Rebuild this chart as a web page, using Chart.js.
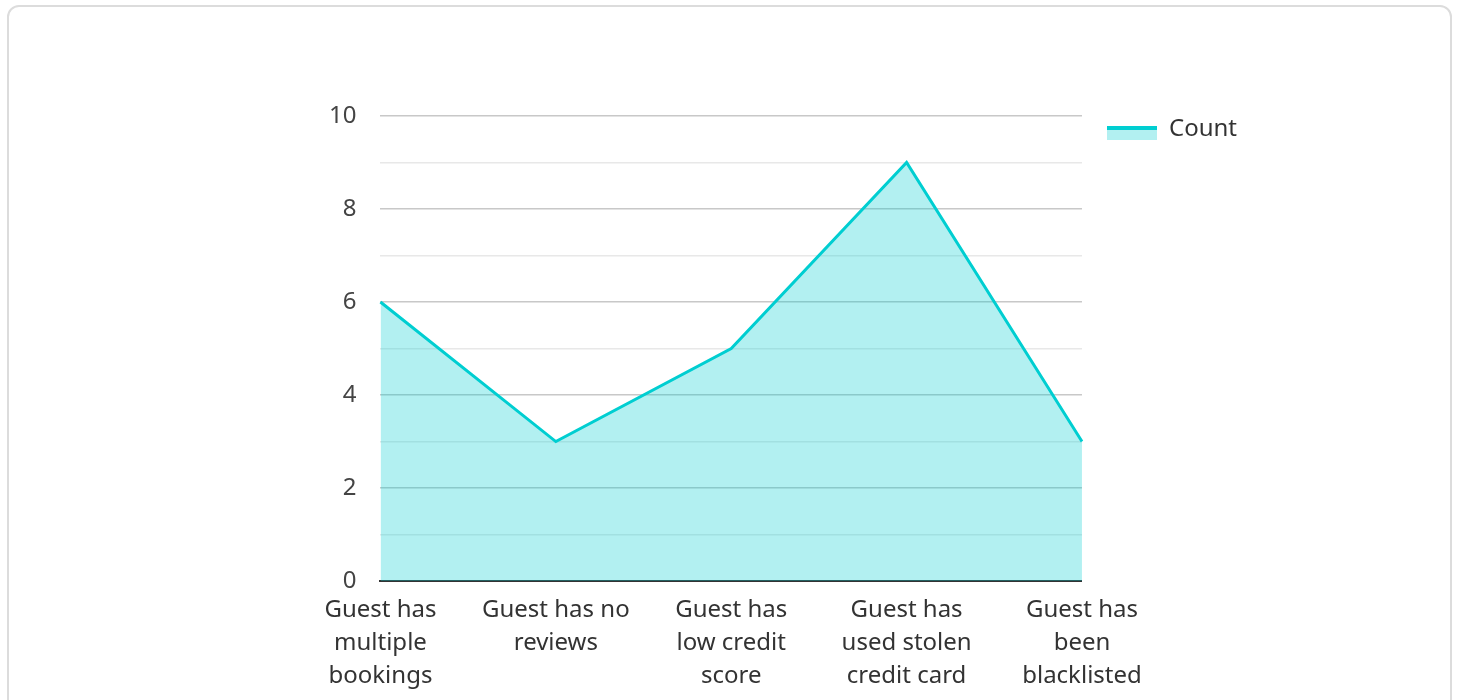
<!DOCTYPE html>
<html>
<head>
<meta charset="utf-8">
<script src="https://cdn.jsdelivr.net/npm/chart.js@4.4.1/dist/chart.umd.min.js"></script>
<style>
  html, body { margin: 0; padding: 0; background: #ffffff; overflow: hidden; }
  #card { position: absolute; left: 7px; top: 5px; width: 1441px; height: 720px; border: 2px solid #dcdcdc; border-radius: 12px; background: #fff; }
  #wrap { position: absolute; left: 0; top: 0; width: 1458px; height: 700px; }
</style>
</head>
<body>
<div id="card"></div>
<div id="wrap"><canvas id="c"></canvas></div>
<script>
const categories = [
  ["Guest has", "multiple", "bookings"],
  ["Guest has no", "reviews"],
  ["Guest has", "low credit", "score"],
  ["Guest has", "used stolen", "credit card"],
  ["Guest has", "been", "blacklisted"]
];
const countValues = [6, 3, 5, 9, 3];
const seriesName = "Count";
const yMin = 0, yMax = 10, yStep = 1;

const LINE = '#00CED1';
const FILL = 'rgba(0,206,209,0.30)';
const FONT = '"Noto Sans", "Open Sans", sans-serif';

// legend swatch: line on top, filled box below
const sw = document.createElement('canvas');
sw.width = 50; sw.height = 24;
(function(){
  const g = sw.getContext('2d');
  g.fillStyle = FILL; g.fillRect(0, 9, 50, 14);
  g.fillStyle = LINE; g.fillRect(0, 9, 50, 4);
})();

const shiftLegend = {
  id: 'shiftLegend',
  afterLayout(chart) {
    const lg = chart.legend;
    if (lg) { lg.top -= 24; lg.bottom -= 24; }
  }
};

new Chart(document.getElementById('c'), {
  type: 'line',
  data: {
    labels: categories,
    datasets: [{
      label: seriesName,
      data: countValues,
      borderColor: LINE,
      backgroundColor: FILL,
      borderWidth: 3,
      fill: 'origin',
      tension: 0,
      pointRadius: 0,
      pointHoverRadius: 0
    }]
  },
  options: {
    responsive: true,
    maintainAspectRatio: false,
    animation: false,
    layout: { padding: { left: 305, right: 211, top: 116, bottom: -5 } },
    plugins: {
      legend: {
        position: 'right',
        align: 'start',
        labels: {
          usePointStyle: true,
          pointStyle: sw,
          pointStyleWidth: 50,
          padding: 25,
          color: '#333',
          font: { family: FONT, size: 24 }
        }
      },
      tooltip: { enabled: false }
    },
    scales: {
      x: {
        grid: { display: false, drawTicks: false },
        border: { display: true, color: '#333', width: 2 },
        ticks: {
          color: '#333', padding: 13, maxRotation: 0, autoSkip: false,
          font: { family: FONT, size: 24, lineHeight: 1.36 }
        }
      },
      y: {
        min: yMin, max: yMax,
        border: { display: false },
        grid: {
          drawTicks: false,
          lineWidth: 1.5,
          color: ctx => (ctx.tick && ctx.tick.value % 2 === 0) ? '#c8c8c8' : '#e8e8e8'
        },
        ticks: {
          stepSize: yStep, padding: 24, color: '#444',
          font: { family: FONT, size: 24 },
          callback: v => (v % 2 === 0 ? String(v) : '')
        }
      }
    }
  },
  plugins: [shiftLegend]
});
</script>
</body>
</html>
